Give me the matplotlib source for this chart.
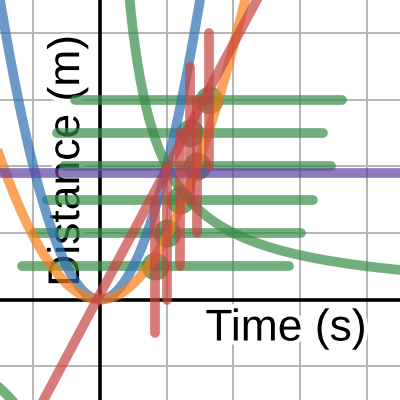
import numpy as np
import matplotlib
matplotlib.use('Agg')
from matplotlib import pyplot as plt
import matplotlib.patheffects as pe

plt.rcParams['font.family'] = ['Liberation Sans', 'DejaVu Sans']

# colours (desmos palette)
blue = '#2d70b3'
orange = '#fa7e19'
red = '#c74440'
green = '#388c46'
purple = '#6042a6'

# measured points with error bars
dot_x = [0.83, 1.01, 1.20, 1.46, 1.35, 1.63]
dot_y = [0.5, 1.0, 1.5, 2.0, 2.5, 3.0]
x_err = 2.0
y_err = 1.0

# curve coefficients
blue_a = 2.0        # y = a x^2
orange_a = 0.95     # y = a x^2
red_m, red_b = 1.88, 0.08   # y = m x + b
green_k = 2.0       # y = k / x
purple_y = 1.9      # y = const

x_label = 'Time (s)'
y_label = 'Distance (m)'

fig = plt.figure(figsize=(4, 4), dpi=100)
ax = fig.add_axes([0, 0, 1, 1])
ax.set_xlim(-1.5, 4.5)
ax.set_ylim(-1.51, 4.5)
ax.set_xticks(range(-1, 5))
ax.set_yticks(range(-1, 5))
ax.grid(True, color='#b4b4b4', lw=1.4, zorder=0)
ax.tick_params(length=0, labelbottom=False, labelleft=False)
for s in ax.spines.values():
  s.set_visible(False)
ax.set_axisbelow(True)

ax.axhline(0, color='black', lw=2.6, zorder=1)
ax.axvline(0, color='black', lw=2.6, zorder=1)

halo = [pe.withStroke(linewidth=6, foreground='white')]
ax.text(0.169, 0.598, y_label, transform=ax.transAxes, rotation=90,
        ha='center', va='center', fontsize=32, zorder=2, path_effects=halo)
ax.text(0.715, 0.1775, x_label, transform=ax.transAxes,
        ha='center', va='center', fontsize=32, zorder=2, path_effects=halo)

lw = 7
al = 0.7
dx = np.array(dot_x)
dy = np.array(dot_y)

# data points first, curves and bars on top
ax.hlines(dy, dx - x_err, dx + x_err, colors=green, lw=lw, alpha=al,
          capstyle='round', zorder=3)
ax.scatter(dx, dy, s=400, color=green, alpha=0.75, lw=0, zorder=3)

xs = np.linspace(-1.6, 4.6, 600)
ax.plot(xs, blue_a * xs**2, color=blue, lw=lw, alpha=al, zorder=4)
ax.plot(xs, orange_a * xs**2, color=orange, lw=lw, alpha=al, zorder=4)
ax.plot(xs, red_m * xs + red_b, color=red, lw=lw, alpha=al, zorder=4)

xp = np.linspace(0.3, 4.6, 400)
xn = np.linspace(-1.6, -0.3, 200)
ax.plot(xp, green_k / xp, color=green, lw=lw, alpha=al, zorder=4)
ax.plot(xn, green_k / xn, color=green, lw=lw, alpha=al, zorder=4)

ax.axhline(purple_y, color=purple, lw=lw, alpha=al, zorder=4)

ax.vlines(dx, dy - y_err, dy + y_err, colors=red, lw=lw, alpha=al,
          capstyle='round', zorder=5)

fig.savefig('out.png', dpi=100)
